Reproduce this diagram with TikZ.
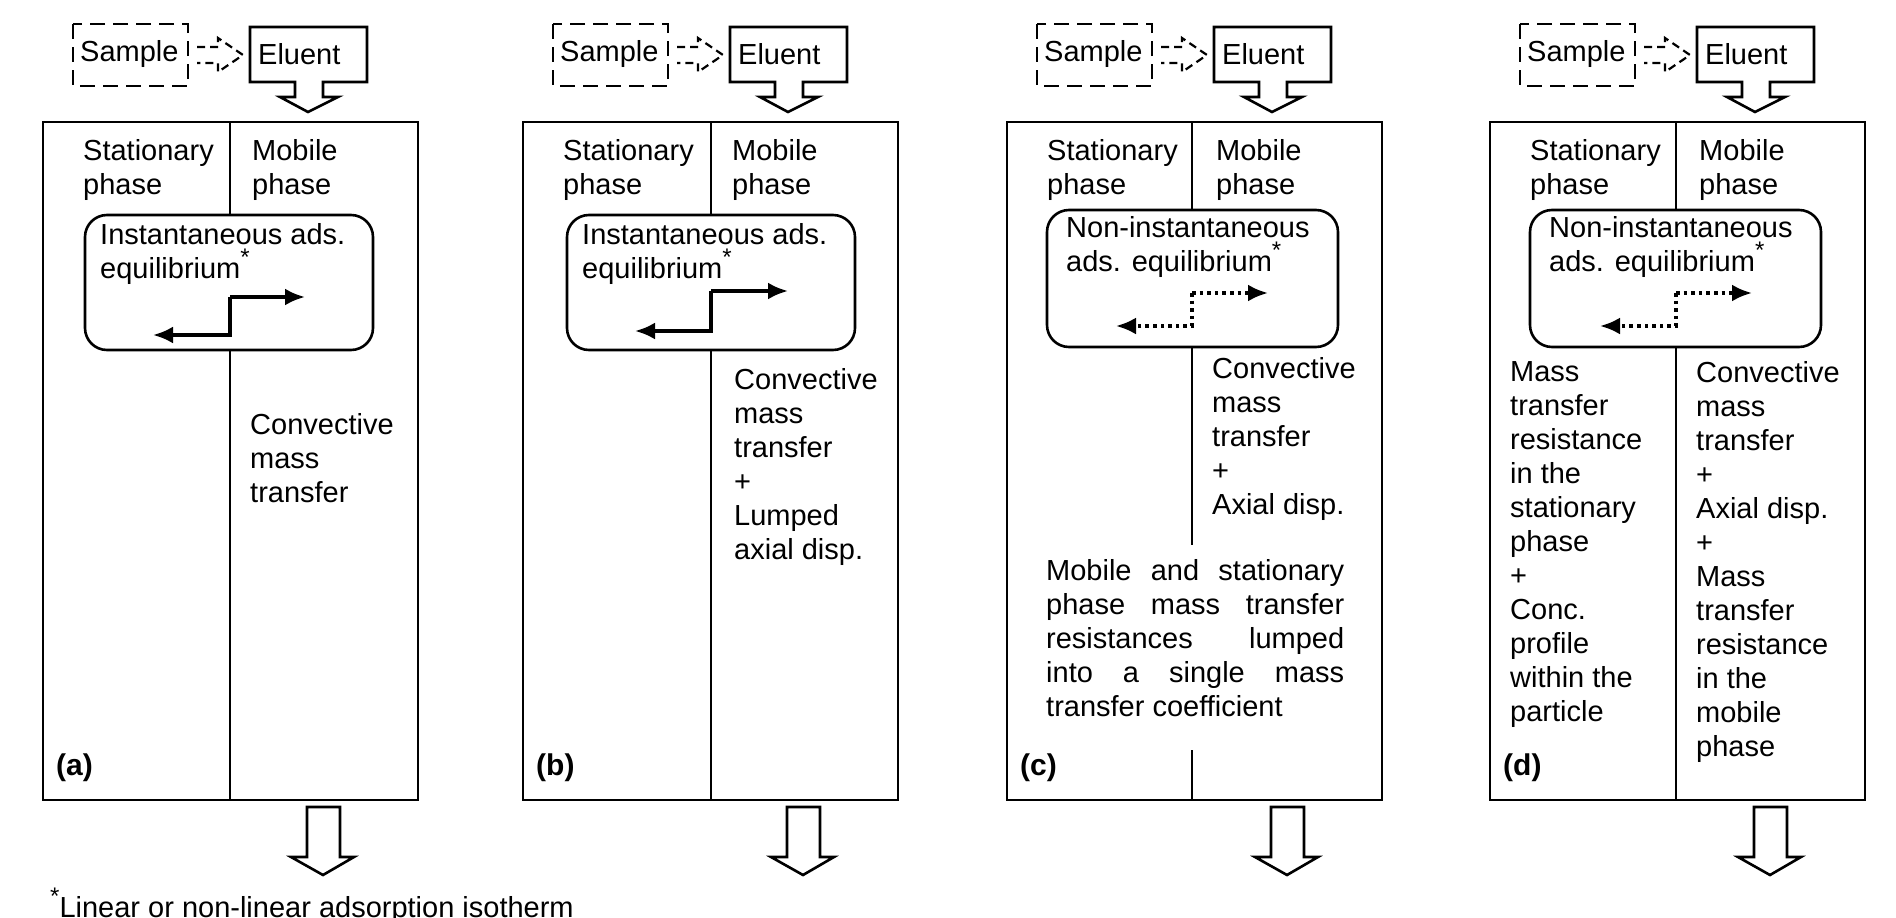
\documentclass[tikz,border=0pt]{standalone}
\usepackage{fontspec}
\setmainfont{Liberation Sans}
\usetikzlibrary{arrows.meta}
\begin{document}
\begin{tikzpicture}[x=1pt,y=-1pt,
  ln/.style={line width=2.6pt},
  txt/.style={inner sep=0pt,anchor=north west,align=left,font=\fontsize{29}{34}\selectfont},
  rb/.style={ln,rounded corners=22pt},
  eq/.style={line width=3.6pt,-{Latex[length=20pt,width=17pt]}},
  dq/.style={line width=3.6pt,dash pattern=on 3.6pt off 4pt,-{Latex[length=20pt,width=17pt]}},
  lab/.style={inner sep=0pt,anchor=west,font=\fontsize{30}{34}\selectfont\bfseries}]
\useasboundingbox (0,0) rectangle (1896,918);
\fill[white] (0,0) rectangle (1896,918);
\newcommand\myast{\raisebox{0.45em}{\fontsize{24}{24}\selectfont *}}
\newcommand\colpanel[3]{%
 \begin{scope}[xshift=#2]
  \draw[ln,dash pattern=on 15pt off 8pt] (73,24) rectangle (188,86);
  \node[txt,anchor=west] (#1s) at (80,54) {Sample};
  \draw[line width=2.2pt,dash pattern=on 8pt off 5pt] (197,47)--(218,47)--(218,38)--(243,55)--(218,72)--(218,63)--(197,63);
  \draw[ln] (250,27)--(367,27)--(367,82)--(323,82)--(323,97)--(338,97)--(308,112)--(280,97)--(295,97)--(295,82)--(250,82)--cycle;
  \node[txt,anchor=west] (#1e) at (258,54) {Eluent};
  \draw[ln] (43,122) rectangle (418,800);
  \node[txt] (#1st) at (83,139) {Stationary\\phase};
  \node[txt] (#1mo) at (252,139) {Mobile\\phase};
  \node[lab] (#1l) at (56,768) {#3};
  \draw[ln] (307,807)--(340,807)--(340,857)--(354,857)--(323,875)--(291,857)--(307,857)--cycle;
 \end{scope}}
\colpanel{a}{0}{(a)}
\colpanel{b}{480}{(b)}
\colpanel{c}{964}{(c)}
\colpanel{d}{1447}{(d)}
% panel a
\draw[ln] (230,122)--(230,215) (230,350)--(230,800);
\draw[rb] (85,215) rectangle (373,350);
\node[txt] (at) at (100,223) {Instantaneous ads.\\equilibrium\myast};
\coordinate (am) at (230,297);
\coordinate (amb) at (230,335);
\draw[eq] (am)--(305,297);
\draw[eq] (am)--(amb)--(153,335);
\node[txt] (ac) at (250,413) {Convective\\mass\\transfer};
% panel b
\draw[ln] (711,122)--(711,215) (711,350)--(711,800);
\draw[rb] (567,215) rectangle (855,350);
\node[txt] (bt) at (582,223) {Instantaneous ads.\\equilibrium\myast};
\coordinate (bm) at (711,291);
\coordinate (bmb) at (711,331);
\draw[eq] (bm)--(788,291);
\draw[eq] (bm)--(bmb)--(635,331);
\node[txt] (bc) at (734,368) {Convective\\mass\\transfer\\+\\Lumped\\axial disp.};
% panel c
\draw[ln] (1192,122)--(1192,210) (1192,347)--(1192,545) (1192,750)--(1192,800);
\draw[rb] (1047,210) rectangle (1338,347);
\node[txt] (ct) at (1066,216) {Non-instantaneous\\ads. equilibrium\myast};
\coordinate (cm) at (1192,293);
\coordinate (cmb) at (1192,326);
\draw[dq] (cm)--(1268,293);
\draw[dq] (cm)--(cmb)--(1116,326);
\node[txt] (cc) at (1212,357) {Convective\\mass\\transfer\\+\\Axial disp.};
\node[txt] (cb) at (1046,559) {%
\makebox[298pt][s]{Mobile and stationary}\\
\makebox[298pt][s]{phase mass transfer}\\
\makebox[298pt][s]{resistances lumped}\\
\makebox[298pt][s]{into a single mass}\\
transfer coefficient};
% panel d
\draw[ln] (1676,122)--(1676,210) (1676,347)--(1676,800);
\draw[rb] (1530,210) rectangle (1821,347);
\node[txt] (dt) at (1549,216) {Non-instantaneous\\ads. equilibrium\myast};
\coordinate (dm) at (1676,293);
\coordinate (dmb) at (1676,326);
\draw[dq] (dm)--(1752,293);
\draw[dq] (dm)--(dmb)--(1600,326);
\node[txt] (dl) at (1510,361) {Mass\\transfer\\resistance\\in the\\stationary\\phase\\+\\Conc.\\profile\\within the\\particle};
\node[txt] (dr) at (1696,361) {Convective\\mass\\transfer\\+\\Axial disp.\\+\\Mass\\transfer\\resistance\\in the\\mobile\\phase};
% footnote
\node[txt,anchor=west] (fn) at (50,906) {\myast Linear or non-linear adsorption isotherm};
\end{tikzpicture}
\end{document}
